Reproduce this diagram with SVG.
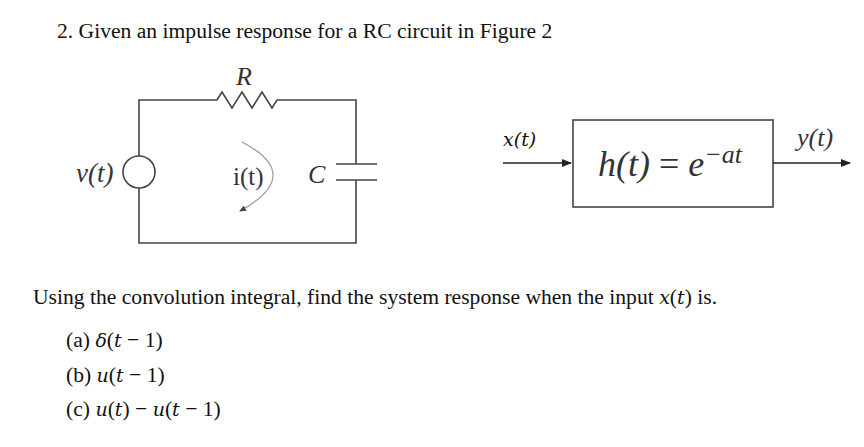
<svg xmlns="http://www.w3.org/2000/svg" width="864" height="447" viewBox="0 0 864 447">
<style>
.w{fill:none;stroke:#444;stroke-width:1.6}
.t{font-family:"Liberation Serif",serif;font-size:21.6px;fill:#111}
.m{font-family:"Liberation Serif",serif;font-style:italic;fill:#333}
.v{font-family:"DejaVu Serif",serif;font-style:italic;font-size:19px}
</style>
<defs><marker id="a" markerWidth="10" markerHeight="8" refX="9" refY="4" orient="auto" markerUnits="userSpaceOnUse"><path d="M0,0L10,4L0,8z" fill="#222"/></marker>
<marker id="s" markerWidth="7" markerHeight="6" refX="6" refY="3" orient="auto" markerUnits="userSpaceOnUse"><path d="M0,0L7,3L0,6z" fill="#444"/></marker></defs>
<rect width="864" height="447" fill="#fff"/>
<text class="t" x="57" y="38" font-size="22">2.  Given an impulse response for a RC circuit in Figure 2</text>
<g id="circuit">
<path class="w" d="M139,156V100H217l5,-8l10,16l10,-16l10,16l10,-16l10,16l5,-8H356V164M356,180V243H139V188"/>
<circle class="w" cx="139" cy="172" r="16"/>
<path class="w" d="M336,164H377M336,180H377"/>
<path d="M242,142Q305,175 240,211" fill="none" stroke="#999" stroke-width="1.2" marker-end="url(#s)"/>
<text class="m" x="236" y="85" font-size="26">R</text>
<text class="m" x="76" y="182" font-size="27">v(t)</text>
<text x="233" y="185" font-family="Liberation Serif,serif" font-size="25" fill="#333">i(t)</text>
<text class="m" x="308" y="183" font-size="26">C</text>
</g>
<g id="block">
<rect x="573" y="120" width="200" height="87" class="w" stroke="#333"/>
<text class="m" x="598" y="176" font-size="36">h(t) <tspan font-style="normal">=</tspan> e<tspan dy="-13" font-size="26">−at</tspan></text>
<text x="503" y="146" font-family="DejaVu Serif,serif" font-style="italic" font-size="19" fill="#111">x(t)</text>
<text class="m" x="797" y="146" font-size="26">y(t)</text>
</g>
<g id="connectors">
<path d="M503,163H571" stroke="#222" stroke-width="1.5" marker-end="url(#a)"/>
<path d="M773,163H850" stroke="#222" stroke-width="1.5" marker-end="url(#a)"/>
</g>
<text class="t" x="33" y="304">Using the convolution integral, find the system response when the input <tspan class="v">x</tspan>(<tspan class="v">t</tspan>) is.</text>
<text class="t" x="66" y="347">(a) <tspan class="v">δ</tspan>(<tspan class="v">t</tspan> − 1)</text>
<text class="t" x="66" y="382">(b) <tspan class="v">u</tspan>(<tspan class="v">t</tspan> − 1)</text>
<text class="t" x="66" y="416">(c) <tspan class="v">u</tspan>(<tspan class="v">t</tspan>) − <tspan class="v">u</tspan>(<tspan class="v">t</tspan> − 1)</text>
</svg>
